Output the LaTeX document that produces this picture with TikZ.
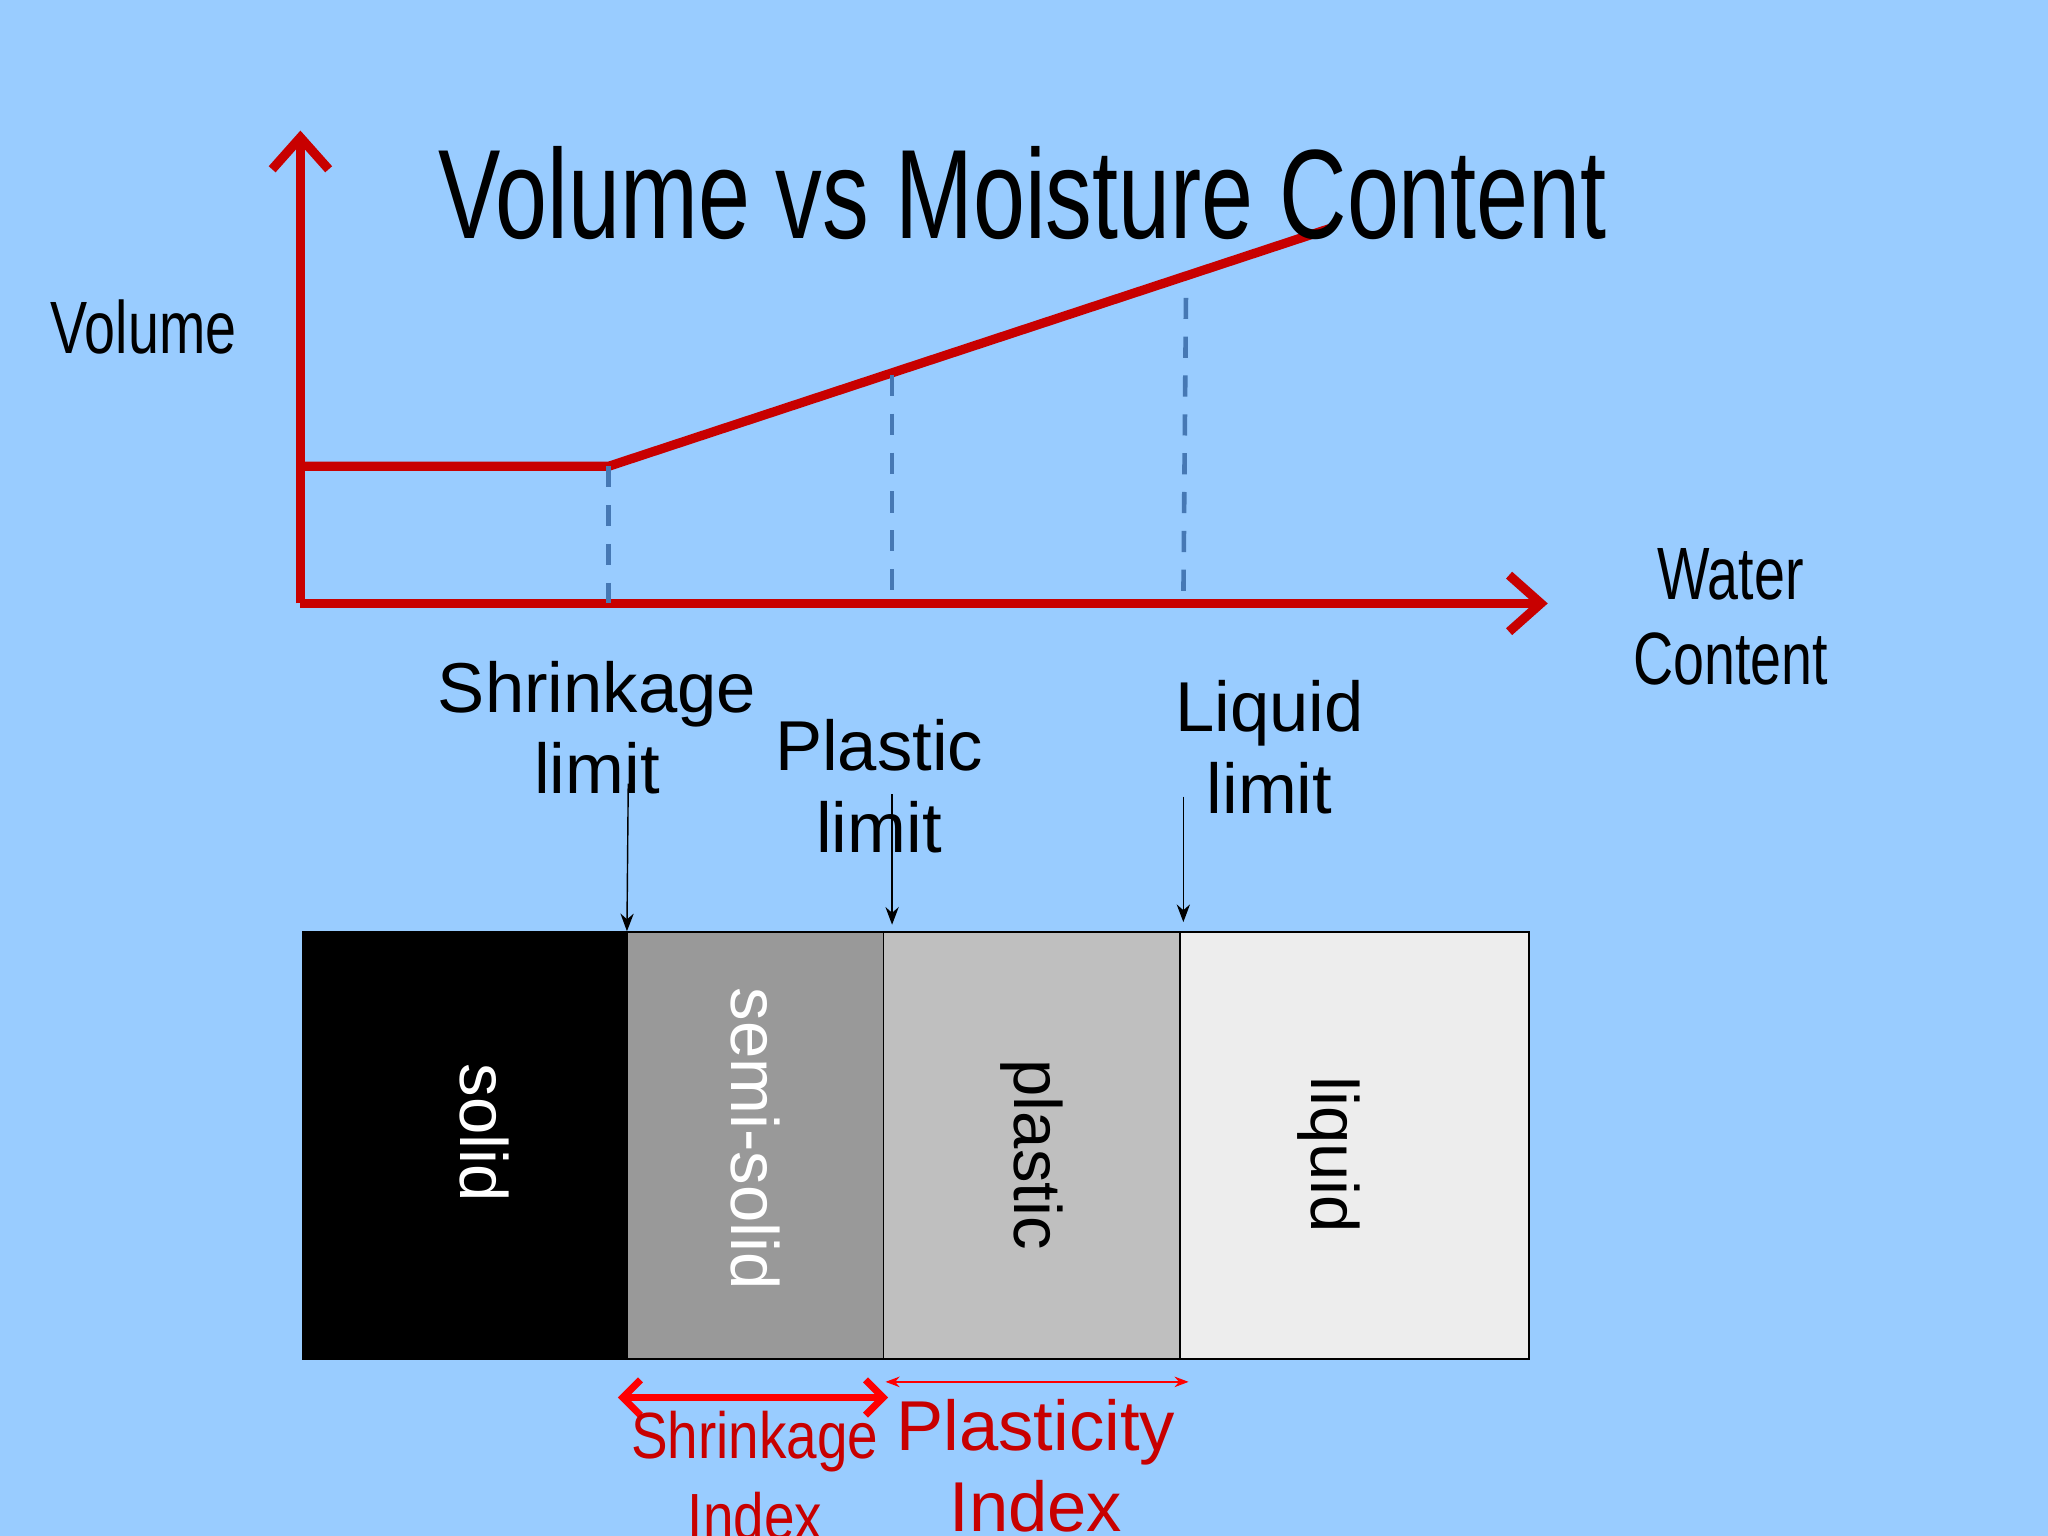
\documentclass[tikz,border=0pt]{standalone}
\usepackage{fontspec}
\setmainfont{Liberation Sans}
\usetikzlibrary{arrows.meta}
\definecolor{sky}{RGB}{153,204,255}
\definecolor{axisred}{RGB}{200,0,0}
\definecolor{dashblue}{RGB}{70,120,180}
\tikzstyle{axis}=[axisred,line width=2.6pt]
\tikzstyle{limitline}=[dashblue,line width=1.3pt,dash pattern=on 6pt off 5pt]
\tikzstyle{pointer}=[-{Stealth[length=5pt]},thin]
\tikzstyle{phase}=[draw=black,thin,minimum height=327*0.013cm,inner sep=0pt,anchor=north west]
\tikzstyle{narrow}=[xscale=0.75,align=center]
\tikzstyle{lbl}=[align=center,font=\fontsize{20}{23}\selectfont]
\begin{document}
\begin{tikzpicture}[x=0.013cm,y=-0.013cm]
	\fill[sky] (0,0) rectangle (1568,1176);
	\useasboundingbox (0,0) rectangle (1568,1176);
	% axes
	\coordinate (o) at (230,462);
	\coordinate (ytop) at (230,100);
	\coordinate (xend) at (1185,462);
	\draw[axis,-{Straight Barb[length=9pt,width=16pt]}] (o) -- (ytop);
	\draw[axis,-{Straight Barb[length=9pt,width=16pt]}] (o) -- (xend);
	% volume curve
	\coordinate (c0) at (230,357);
	\coordinate (sl) at (466,357);
	\coordinate (pl) at (683,287);
	\coordinate (ll) at (908,211);
	\coordinate (c1) at (1018,175);
	\draw[axis] (c0) -- (sl) -- (c1);
	\draw[limitline] (sl) -- (466,462);
	\draw[limitline] (pl) -- (683,462);
	\draw[limitline] (908,228) -- (906,462);
	% titles
	\node[narrow,xscale=0.98,font=\fontsize{36}{40}\selectfont] (title) at (783,148) {Volume vs Moisture Content};
	\node[narrow,font=\fontsize{21}{24}\selectfont] (vol) at (110,250) {Volume};
	\node[narrow,font=\fontsize{21}{24}\selectfont] (wc) at (1325,472) {Water\\Content};
	% limits
	\node[lbl] (shl) at (457,557) {Shrinkage\\limit};
	\node[lbl] (pll) at (673,602) {Plastic\\limit};
	\node[lbl] (lql) at (972,572) {Liquid\\limit};
	% phases
	\node[phase,fill=black,minimum width=249*0.013cm] (solid) at (231,713) {};
	\node[phase,fill=black!40,minimum width=196*0.013cm] (semi) at (480,713) {};
	\node[phase,fill=black!25,minimum width=227*0.013cm] (plastic) at (676,713) {};
	\node[phase,fill=black!7,minimum width=267*0.013cm] (liquid) at (903,713) {};
	\foreach \p/\t/\c/\dx/\dy in {solid/solid/white/15/-10,semi/semi-solid/white/0/-5,plastic/plastic/black/0/7,liquid/liquid/black/-20/7}
		\node[rotate=-90,text=\c,font=\fontsize{19}{22}\selectfont] at ([shift={(\dx*0.013cm,-\dy*0.013cm)}]\p.center) {\t};
	% pointers
	\coordinate (a1) at (481,600);
	\coordinate (a2) at (683,608);
	\coordinate (a3) at (906,610);
	\draw[pointer] (a1) -- (semi.north west);
	\draw[pointer] (a2) -- (683,708);
	\draw[pointer] (a3) -- (906,706);
	% indices
	\coordinate (si0) at (473,1070);
	\coordinate (si1) at (680,1070);
	\coordinate (pi0) at (678,1058);
	\coordinate (pi1) at (910,1058);
	\draw[red,line width=2pt,{Straight Barb[length=5pt,width=10pt]}-{Straight Barb[length=5pt,width=10pt]}] (si0) -- (si1);
	\draw[red,thin,{Stealth[length=4pt]}-{Stealth[length=4pt]}] (pi0) -- (pi1);
	\node[narrow,xscale=1.12,text=axisred,font=\fontsize{18.5}{23}\selectfont] (shi) at (578,1130) {Shrinkage\\Index};
	\node[lbl,text=axisred] (pli) at (793,1122) {Plasticity\\Index};
\end{tikzpicture}
\end{document}
